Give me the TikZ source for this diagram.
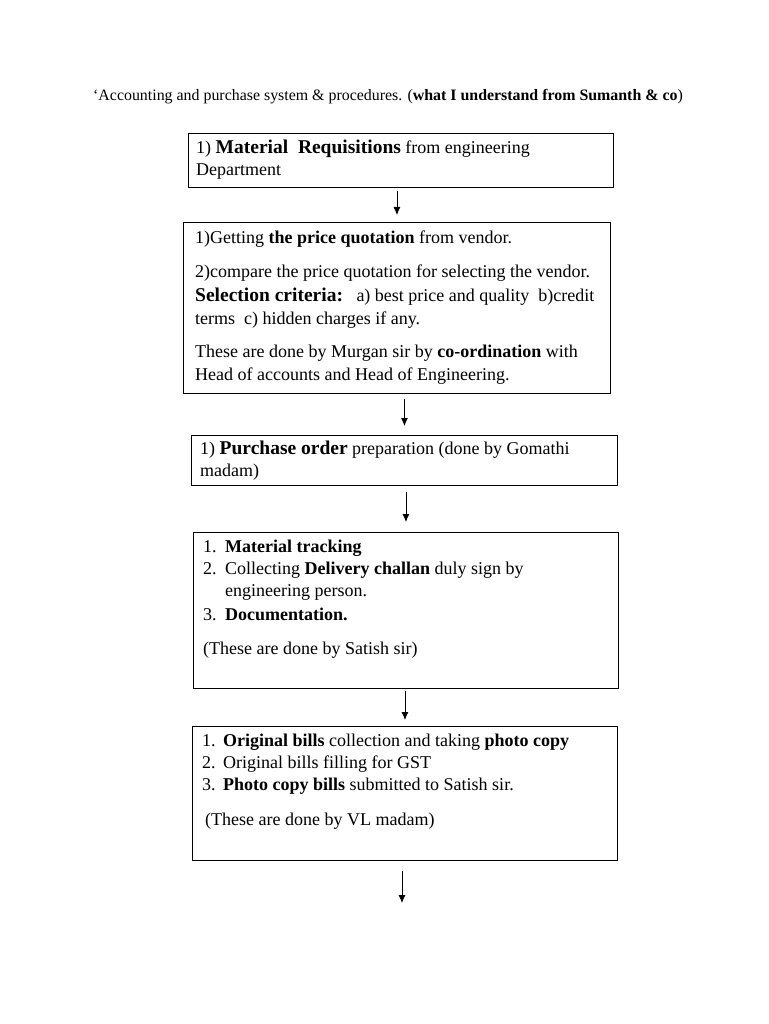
\documentclass[tikz,border=0pt]{standalone}
\usepackage{fontspec}
\setmainfont{Liberation Serif}
\usetikzlibrary{arrows.meta}

\newcommand{\bigb}[1]{{\fontsize{19.5}{23}\selectfont\bfseries #1}}
\newcommand{\num}[1]{\makebox[22pt][l]{#1}}

\begin{document}
\begin{tikzpicture}[x=1pt,y=-1pt]
  \tikzset{every node/.style={inner sep=0pt},
           stepbox/.style={draw,line width=0.9pt,anchor=north west},
           steptext/.style={anchor=north west,align=left,font=\fontsize{18}{23}\selectfont},
           flow/.style={-{Latex[length=8pt,width=7pt]},line width=0.8pt}}
  \useasboundingbox (0,0) rectangle (768,1024);

  \node[anchor=base west,font=\fontsize{15.9}{18}\selectfont] (title) at (93,101)
    {‘Accounting and purchase system \& procedures. (\textbf{what I understand from Sumanth \& co})};

  % boxes
  \node[stepbox,minimum width=425pt,minimum height=54pt] (req) at (188,133) {};
  \node[stepbox,minimum width=427pt,minimum height=171pt] (quote) at (183,222) {};
  \node[stepbox,minimum width=426pt,minimum height=50pt] (po) at (191,435) {};
  \node[stepbox,minimum width=425pt,minimum height=156pt] (track) at (193,532) {};
  \node[stepbox,minimum width=425pt,minimum height=134pt] (bills) at (192,726) {};
  \coordinate (next) at (402,903);

  % texts
  \node[steptext] (reqtext) at (196,140)
    {1) \bigb{Material\ \ Requisitions} from engineering\\[-1pt]
     Department};
  \node[steptext] (quotetext) at (195,230.5)
    {1)Getting \textbf{the price quotation} from vendor.\\[11pt]
     2)compare the price quotation for selecting the vendor.\\[1pt]
     \bigb{Selection criteria:}\ \ \ a) best price and quality\ \ b)credit\\
     terms\ \ c) hidden charges if any.\\[10pt]
     These are done by Murgan sir by \textbf{co-ordination} with\\
     Head of accounts and Head of Engineering.};
  \node[steptext] (potext) at (200,441)
    {1) \bigb{Purchase order} preparation (done by Gomathi\\[-1pt]
     madam)};
  \node[steptext] (tracktext) at (203,539.5)
    {\num{1.}\textbf{Material tracking}\\[-1pt]
     \num{2.}Collecting \textbf{Delivery challan} duly sign by\\[-1pt]
     \hspace*{22pt}engineering person.\\[1pt]
     \num{3.}\textbf{Documentation.}\\[11pt]
     (These are done by Satish sir)};
  \node[steptext] (billstext) at (202,733.5)
    {\makebox[21pt][l]{1.}\textbf{Original bills} collection and taking \textbf{photo copy}\\[-1pt]
     \makebox[21pt][l]{2.}Original bills filling for GST\\[-1pt]
     \makebox[21pt][l]{3.}\textbf{Photo copy bills} submitted to Satish sir.\\[12pt]
     \hspace*{3pt}(These are done by VL madam)};

  % arrows
  \draw[flow,shorten <=3pt,shorten >=7pt] (quote.north |- req.south) -- (quote.north);
  \draw[flow,shorten <=5pt,shorten >=9pt] (po.north |- quote.south) -- (po.north);
  \draw[flow,shorten <=6pt,shorten >=10pt] (track.north |- po.south) -- (track.north);
  \draw[flow,shorten <=2pt,shorten >=6pt] (bills.north |- track.south) -- (bills.north);
  \draw[flow,shorten <=10pt] (next |- bills.south) -- (next);
\end{tikzpicture}
\end{document}
